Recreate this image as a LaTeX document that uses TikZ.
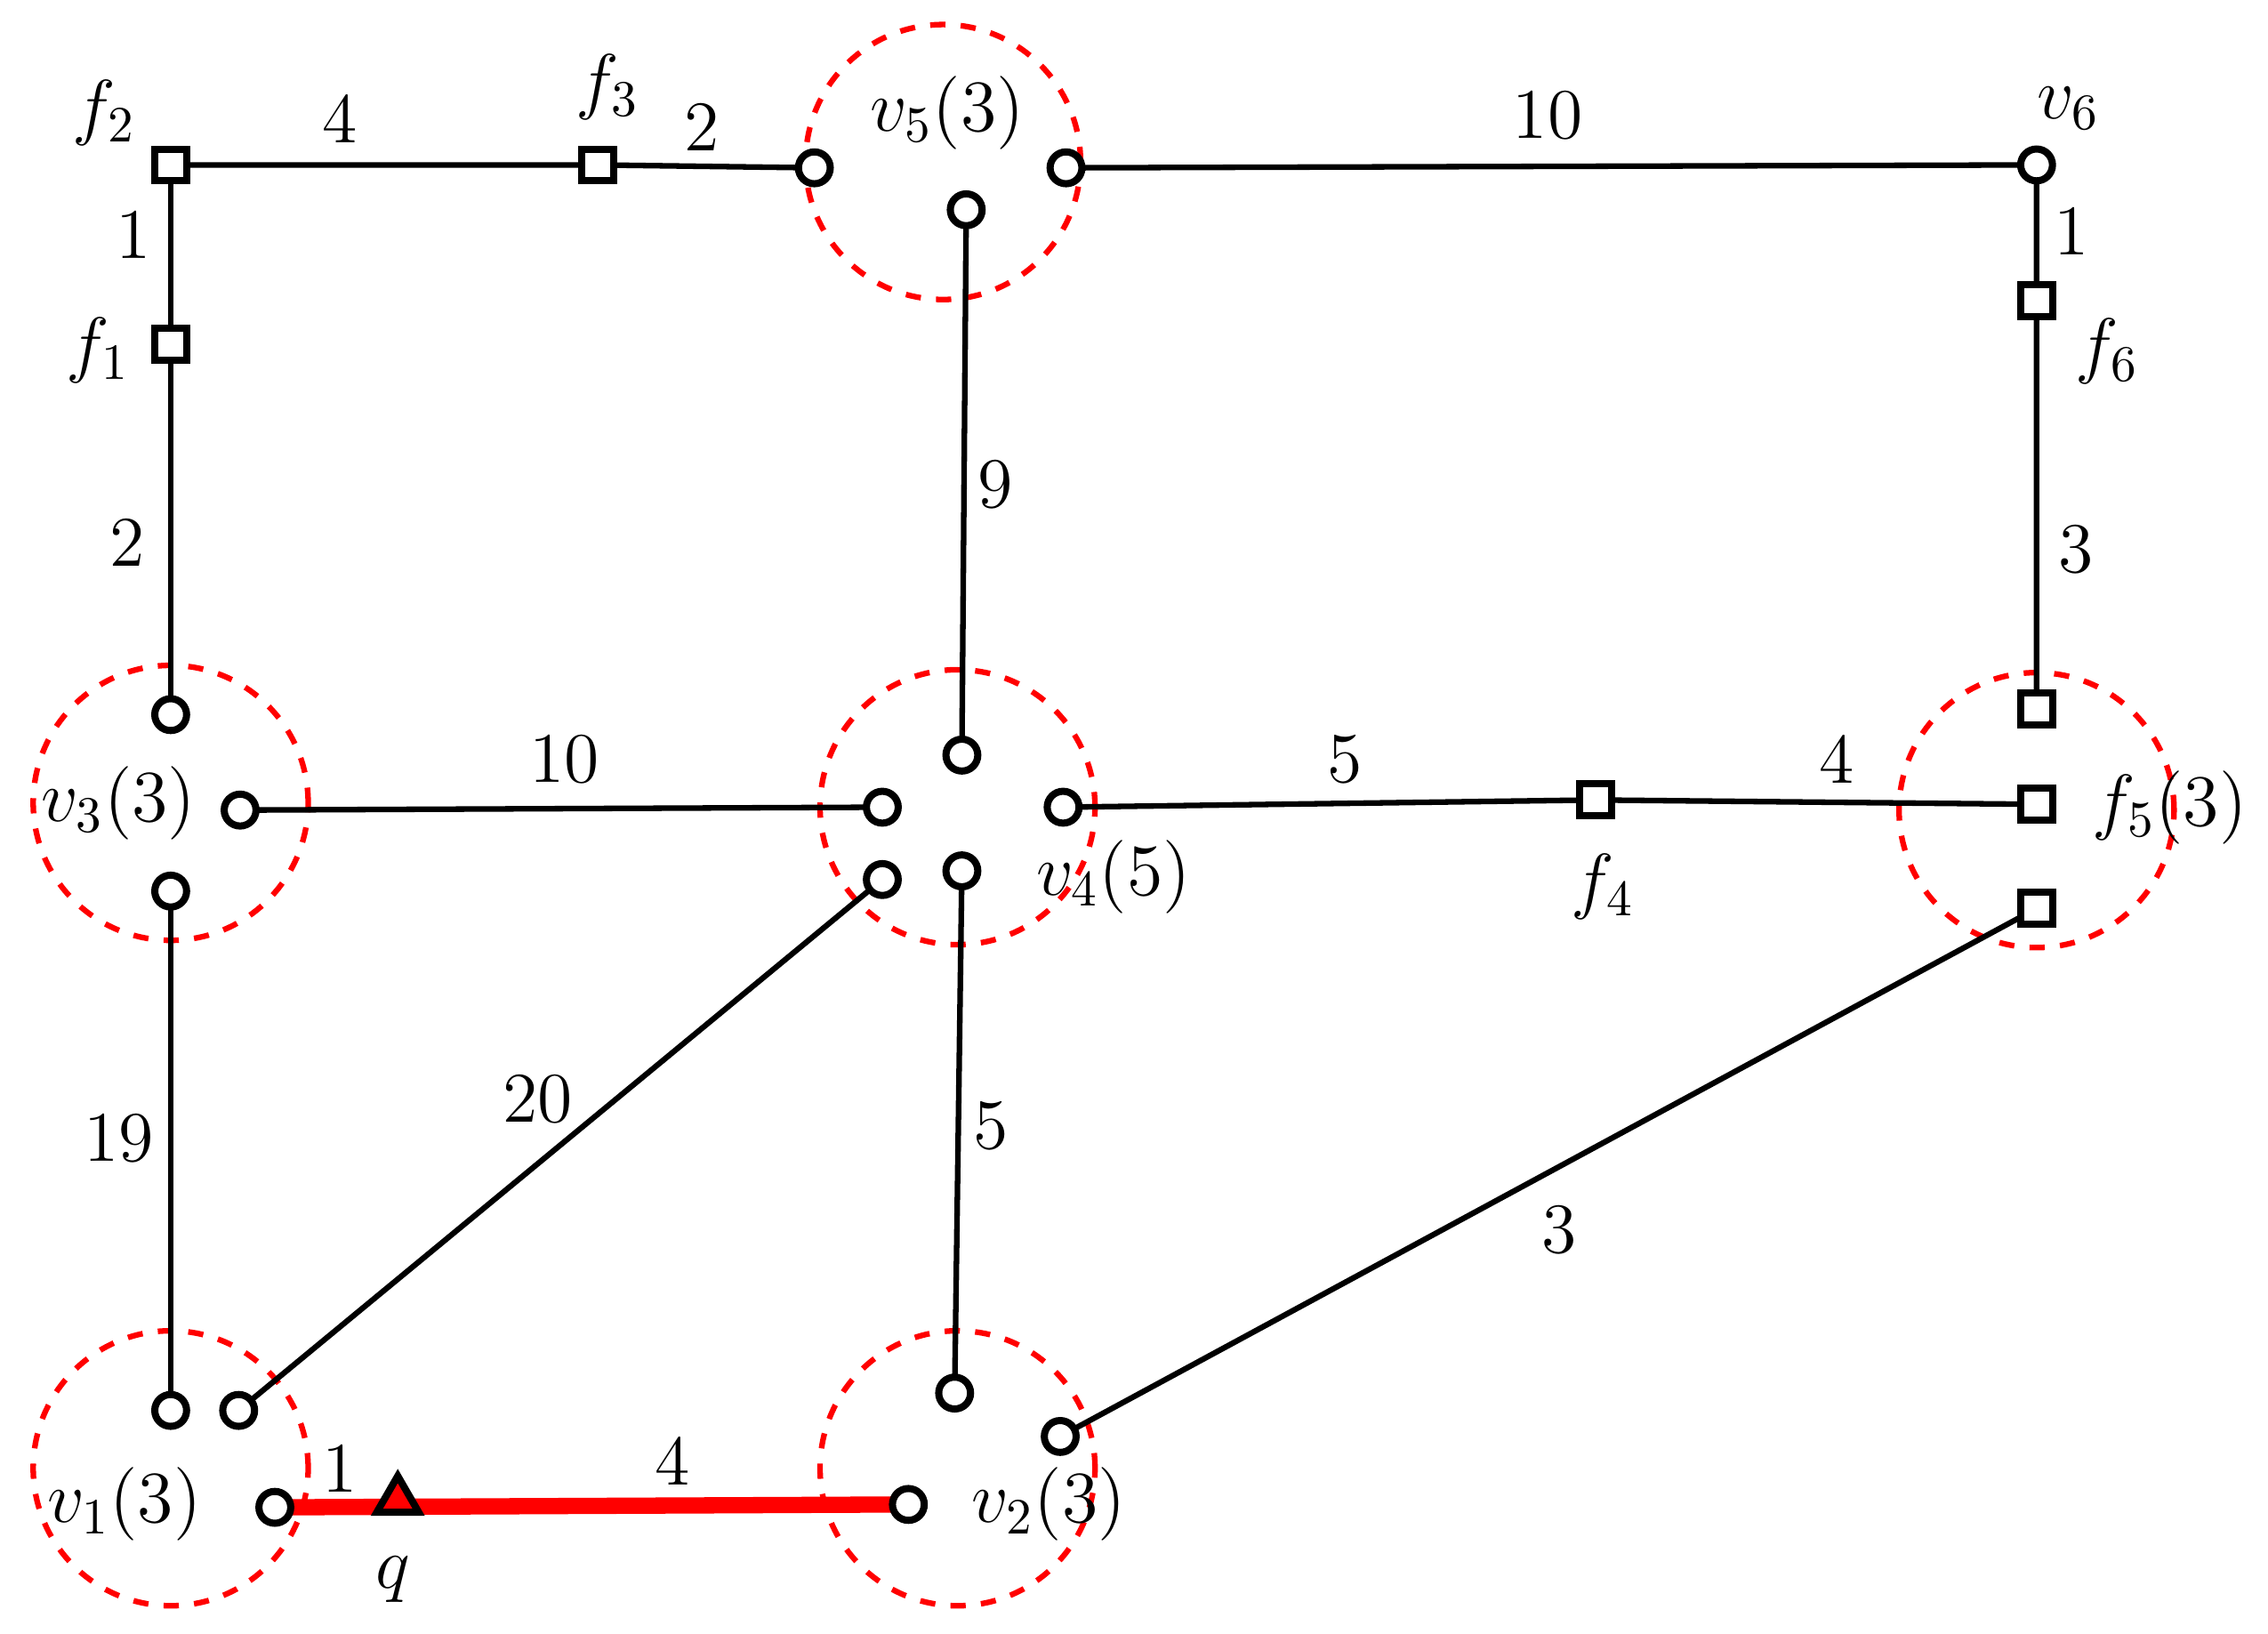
\documentclass[tikz,border=0pt]{standalone}
\usetikzlibrary{shapes.geometric}
\begin{document}
\begin{tikzpicture}[x=0.01cm,y=-0.01cm,
 port/.style={circle,draw,line width=1.4pt,fill=white,minimum size=0.22cm,inner sep=0pt},
 sq/.style={rectangle,draw,line width=1.4pt,fill=white,minimum size=0.22cm,inner sep=0pt},
 grp/.style={circle,draw=red,dashed,line width=1.1pt,minimum size=1.9cm,inner sep=0pt},
 ed/.style={line width=1.1pt},
 lb/.style={font=\fontsize{14}{16}\selectfont,inner sep=1pt}]
\useasboundingbox (0,0) rectangle (1568,1129);
% groups
\node[grp] (G5) at (652,112) {};
\node[grp] (G4) at (662,558) {};
\node[grp] (G3) at (118,555) {};
\node[grp] (G1) at (118,1015) {};
\node[grp] (G2) at (662,1015) {};
\node[grp] (G6) at (1408,560) {};
% edges first (drawn under nodes via coordinates)
\coordinate (f2) at (118,114); \coordinate (f3) at (413,114); \coordinate (f1) at (118,238);
\coordinate (v5a) at (563,116); \coordinate (v5b) at (737,116); \coordinate (v5c) at (668,145);
\coordinate (v6) at (1408,114); \coordinate (f6) at (1408,208);
\coordinate (f5a) at (1408,490); \coordinate (f5b) at (1408,556); \coordinate (f5c) at (1408,628);
\coordinate (f4) at (1103,553);
\coordinate (v4a) at (665,522); \coordinate (v4b) at (610,558); \coordinate (v4c) at (735,558);
\coordinate (v4d) at (610,608); \coordinate (v4e) at (665,602);
\coordinate (v3a) at (118,494); \coordinate (v3b) at (166,560); \coordinate (v3c) at (118,616);
\coordinate (v1a) at (118,975); \coordinate (v1b) at (165,975); \coordinate (v1c) at (190,1042);
\coordinate (v2a) at (660,963); \coordinate (v2b) at (733,993); \coordinate (v2c) at (628,1040);
\coordinate (q) at (275,1040);
\draw[ed] (f2)--(f3)--(v5a); \draw[ed] (f2)--(f1)--(v3a);
\draw[ed] (v5b)--(v6)--(f6)--(f5a); \draw[ed] (v5c)--(v4a);
\draw[ed] (v3b)--(v4b); \draw[ed] (v4c)--(f4)--(f5b);
\draw[ed] (v3c)--(v1a); \draw[ed] (v4d)--(v1b); \draw[ed] (v4e)--(v2a);
\draw[ed] (f5c)--(v2b);
\draw[red,line width=3.2pt] (v1c)--(v2c);
% nodes
\foreach \p in {f2,f3,f1,f6,f5a,f5b,f5c,f4} \node[sq] (n\p) at (\p) {};
\foreach \p in {v5a,v5b,v5c,v6,v4a,v4b,v4c,v4d,v4e,v3a,v3b,v3c,v1a,v1b,v1c,v2a,v2b,v2c} \node[port] (n\p) at (\p) {};
\node[isosceles triangle,isosceles triangle apex angle=60,shape border rotate=90,draw,fill=red,line width=1.4pt,minimum size=0.25cm,inner sep=0pt] (nq) at (275,1037) {};
% labels
\node[lb] (l1) at (72,78) {$f_2$};
\node[lb] (l2) at (420,60) {$f_3$};
\node[lb] (l3) at (68,242) {$f_1$};
\node[lb] (l4) at (655,78) {$v_5(3)$};
\node[lb] (l5) at (1430,75) {$v_6$};
\node[lb] (l6) at (1457,243) {$f_6$};
\node[lb] (l7) at (1500,558) {$f_5(3)$};
\node[lb] (l8) at (1108,613) {$f_4$};
\node[lb] (l9) at (770,606) {$v_4(5)$};
\node[lb] (l10) at (82,555) {$v_3(3)$};
\node[lb] (l11) at (86,1040) {$v_1(3)$};
\node[lb] (l12) at (725,1040) {$v_2(3)$};
\node[lb] (l13) at (272,1092) {$q$};
\node[lb] at (235,82) {4};
\node[lb] at (485,88) {2};
\node[lb] at (92,162) {1};
\node[lb] at (1070,80) {10};
\node[lb] at (1432,160) {1};
\node[lb] at (1435,380) {3};
\node[lb] at (930,525) {5};
\node[lb] at (1270,525) {4};
\node[lb] at (688,335) {9};
\node[lb] at (88,375) {2};
\node[lb] at (390,525) {10};
\node[lb] at (82,787) {19};
\node[lb] at (372,760) {20};
\node[lb] at (685,778) {5};
\node[lb] at (1078,850) {3};
\node[lb] at (235,1015) {1};
\node[lb] at (465,1010) {4};
\end{tikzpicture}
\end{document}
